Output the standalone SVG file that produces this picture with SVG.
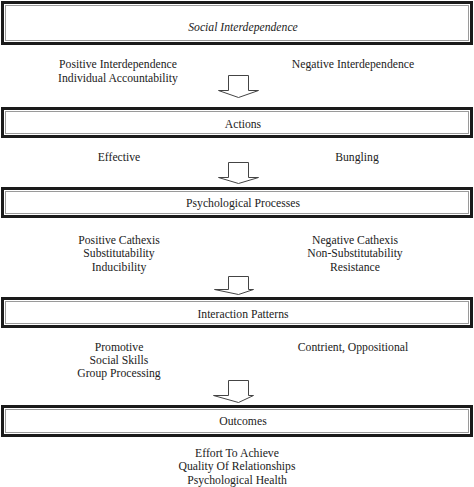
<svg xmlns="http://www.w3.org/2000/svg" width="474" height="487" viewBox="0 0 474 487">
<style>
.outer{fill:#fff;stroke:#1a1a1a;stroke-width:3}
.inner{fill:none;stroke:#9a9a9a;stroke-width:1}
.arrow{fill:#fff;stroke:#444;stroke-width:1}
text{font-family:"Liberation Serif","Times New Roman",serif;font-size:11.7px;fill:#222;text-anchor:middle}
.it{font-style:italic}
</style>
<rect width="474" height="487" fill="#fff"/>
<g id="connectors">
<polygon class="arrow" points="228.5,75.5 248.5,75.5 248.5,90.5 258.5,90.5 238.5,97.5 218.5,90.5 228.5,90.5"/>
<polygon class="arrow" points="228.5,162.5 248.5,162.5 248.5,177.5 258.5,177.5 238.5,183.5 218.5,177.5 228.5,177.5"/>
<polygon class="arrow" points="228.5,276.5 248.5,276.5 248.5,289.5 253.5,289.5 238.5,294.5 214.5,289.5 228.5,289.5"/>
<polygon class="arrow" points="228.5,380.5 248.5,380.5 248.5,395.5 253.5,395.5 238.5,402.5 213.5,395.5 228.5,395.5"/>
</g>
<g id="social-interdependence">
<rect class="outer" x="2.5" y="2.5" width="469" height="41"/>
<rect class="inner" x="5.5" y="5.5" width="463" height="35"/>
<text class="it" x="243" y="31">Social Interdependence</text>
</g>
<g id="actions">
<rect class="outer" x="2.5" y="108.5" width="469" height="28"/>
<rect class="inner" x="5.5" y="111.5" width="463" height="22"/>
<text x="243" y="128">Actions</text>
</g>
<g id="psychological-processes">
<rect class="outer" x="2.5" y="188.5" width="469" height="28"/>
<rect class="inner" x="5.5" y="191.5" width="463" height="22"/>
<text x="243" y="207">Psychological Processes</text>
</g>
<g id="interaction-patterns">
<rect class="outer" x="2.5" y="298.5" width="469" height="28"/>
<rect class="inner" x="5.5" y="301.5" width="463" height="22"/>
<text x="243" y="318">Interaction Patterns</text>
</g>
<g id="outcomes">
<rect class="outer" x="2.5" y="406.5" width="469" height="29"/>
<rect class="inner" x="5.5" y="409.5" width="463" height="23"/>
<text x="243" y="425">Outcomes</text>
</g>
<g id="labels">
<text x="118" y="68">Positive Interdependence</text>
<text x="118" y="82">Individual Accountability</text>
<text x="353" y="68">Negative Interdependence</text>
<text x="119" y="161">Effective</text>
<text x="357" y="161">Bungling</text>
<text x="119" y="244">Positive Cathexis</text>
<text x="119" y="257">Substitutability</text>
<text x="119" y="271">Inducibility</text>
<text x="355" y="244">Negative Cathexis</text>
<text x="355" y="257">Non-Substitutability</text>
<text x="355" y="271">Resistance</text>
<text x="119" y="351">Promotive</text>
<text x="119" y="364">Social Skills</text>
<text x="119" y="377">Group Processing</text>
<text x="353" y="351">Contrient, Oppositional</text>
<text x="237" y="457">Effort To Achieve</text>
<text x="237" y="470">Quality Of Relationships</text>
<text x="237" y="484">Psychological Health</text>
</g>
</svg>
